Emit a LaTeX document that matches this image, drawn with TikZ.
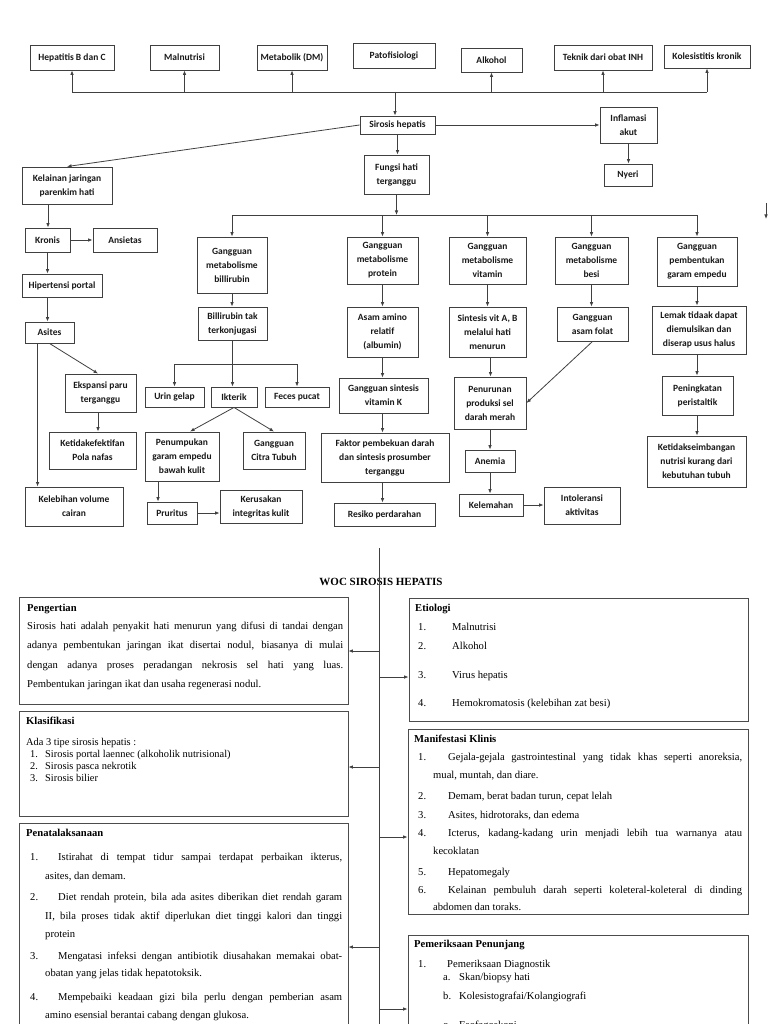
\documentclass[tikz,border=0pt]{standalone}
\usepackage{fontspec}
\setmainfont{Liberation Serif}
\newfontfamily\flowfont{Carlito}
\usetikzlibrary{arrows.meta}
\newcommand\bodyfnt{\fontsize{10.6}{12}\selectfont}
\newcommand\smallbody{\fontsize{10.4}{11}\selectfont}
\newcommand\flbox[6]{\node[fbox, minimum width=#4pt, minimum height=#5pt] (#1) at (#2,#3) {#6};}
\newcommand\tline[4]{\node[txt] (#1) at (#2,#3) {#4};}
\newcommand\jline[5]{\node[txt] (#1) at (#2,#3) {\makebox[#4pt][s]{#5}};}
\begin{document}
\begin{tikzpicture}[x=1pt,y=-1pt,
  fbox/.style={draw=black!75, line width=0.9pt, font=\flowfont\bfseries\fontsize{9.5}{14}\selectfont, align=center, inner sep=0pt, text=black!90},
  tbox/.style={draw=black!70, line width=0.9pt, inner sep=0pt},
  cn/.style={draw=black!75, line width=0.8pt},
  arr/.style={cn, -{Latex[length=4.5pt,width=3.6pt]}},
  txt/.style={anchor=base west, inner sep=0pt, font=\bodyfnt},
  hd/.style={txt, font=\bodyfnt\bfseries}]
\useasboundingbox (0,0) rectangle (768,1024);
\clip (0,0) rectangle (768,1024);
\fill[white] (0,0) rectangle (768,1024);

% ---------- top row ----------
\flbox{hep}{72}{57.5}{84}{25}{Hepatitis B dan C}
\flbox{mal}{184.5}{57.5}{69}{25}{Malnutrisi}
\flbox{met}{292}{57.5}{70}{25}{Metabolik (DM)}
\flbox{pato}{394}{55.5}{82}{25}{Patofisiologi}
\flbox{alk}{491.5}{60}{61}{24}{Alkohol}
\flbox{inh}{603}{57.5}{98}{25}{Teknik dari obat INH}
\flbox{kol}{707}{56.5}{86}{23}{Kolesistitis kronik}

\coordinate (busY) at (0,92);
\draw[cn] (hep.south |- busY) -- (kol.south |- busY);
\foreach \b in {hep,mal,met,alk,inh,kol}{\draw[arr] (\b.south |- busY) -- (\b.south);}

\flbox{sir}{397.5}{125}{75}{18}{Sirosis hepatis}
\coordinate (busC) at (395,92);
\draw[arr] (busC) -- (busC |- sir.north);

\flbox{infl}{628.5}{125}{57}{36}{Inflamasi\\akut}
\flbox{nyeri}{628}{175}{48}{22}{Nyeri}
\flbox{fungsi}{396.5}{174.5}{65}{39}{Fungsi hati\\terganggu}
\flbox{kel}{67}{185.5}{90}{37}{Kelainan jaringan\\parenkim hati}

\draw[arr] (sir.east) -- (sir.east -| infl.west);
\draw[arr] (infl.south) -- (infl.south |- nyeri.north);
\draw[arr] (sir.south) -- (sir.south |- fungsi.north);
\draw[arr] (sir.west) -- (kel.north);

% stray arrow at right edge
\coordinate (sa) at (766,203);
\coordinate (sb) at (766,219);
\draw[arr] (sa) -- (sb);

% ---------- left chain ----------
\flbox{kronis}{47.5}{240}{45}{24}{Kronis}
\flbox{ansietas}{125}{240}{64}{24}{Ansietas}
\flbox{hiper}{62}{285.5}{80}{23}{Hipertensi portal}
\flbox{asites}{49.5}{332.5}{49}{21}{Asites}
\flbox{ekspansi}{100.5}{393}{71}{38}{Ekspansi paru\\terganggu}
\flbox{ketef}{92.5}{450.5}{87}{37}{Ketidakefektifan\\Pola nafas}
\flbox{kelebihan}{74}{506.5}{98}{39}{Kelebihan volume\\cairan}

\draw[arr] ([xshift=-19pt]kel.south) -- ([xshift=-19pt]kel.south |- kronis.north);
\draw[arr] (kronis.east) -- (ansietas.west);
\draw[arr] (kronis.south) -- (kronis.south |- hiper.north);
\draw[arr] (kronis.south |- hiper.south) -- (kronis.south |- asites.north);
\draw[arr] ([xshift=13pt]asites.south west) -- ([xshift=13pt]asites.south west |- kelebihan.north);
\draw[arr] (asites.south) -- ([xshift=-2.5pt]ekspansi.north);
\draw[arr] ([xshift=-2.5pt]ekspansi.south) -- ([xshift=-2.5pt]ekspansi.south |- ketef.north);

% ---------- branch from Fungsi hati ----------
\flbox{gmb}{232}{265}{70}{56}{Gangguan\\metabolisme\\billirubin}
\flbox{gmp}{382.5}{260.5}{71}{47}{Gangguan\\metabolisme\\protein}
\flbox{gmv}{487.5}{260.5}{77}{47}{Gangguan\\metabolisme\\vitamin}
\flbox{gmbesi}{591.5}{260.5}{73}{47}{Gangguan\\metabolisme\\besi}
\flbox{gpg}{697}{261.5}{80}{49}{Gangguan\\pembentukan\\garam empedu}

\coordinate (brY) at (0,215);
\draw[arr] (fungsi.south) -- (fungsi.south |- brY);
\draw[cn] (gmb.north |- brY) -- (gpg.north |- brY);
\foreach \b in {gmb,gmp,gmv,gmbesi,gpg}{\draw[arr] (\b.north |- brY) -- (\b.north);}

% billirubin column
\flbox{btk}{232.5}{323.5}{69}{33}{Billirubin tak\\terkonjugasi}
\flbox{urin}{174.5}{397}{59}{20}{Urin gelap}
\flbox{ikt}{234}{397}{46}{20}{Ikterik}
\flbox{feces}{297}{397}{64}{20}{Feces pucat}
\flbox{penum}{182}{456.5}{74}{49}{Penumpukan\\garam empedu\\bawah kulit}
\flbox{citra}{274}{450.5}{62}{37}{Gangguan\\Citra Tubuh}
\flbox{prur}{172}{513}{50}{22}{Pruritus}
\flbox{kerus}{261}{506.5}{82}{33}{Kerusakan\\integritas kulit}

\draw[arr] (gmb.south) -- (gmb.south |- btk.north);
\coordinate (ikY) at (0,364);
\draw[arr] (btk.south) -- (btk.south |- ikt.north);
\draw[cn] (urin.north |- ikY) -- (feces.north |- ikY);
\draw[arr] (urin.north |- ikY) -- (urin.north);
\draw[arr] (feces.north |- ikY) -- (feces.north);
\draw[arr] (ikt.south) -- ([xshift=8pt]penum.north);
\draw[arr] (ikt.south) -- (citra.north);
\draw[arr] ([xshift=-24pt]penum.south) -- ([xshift=-24pt]penum.south |- prur.north);
\draw[arr] (prur.east) -- (prur.east -| kerus.west);

% protein column
\flbox{asam}{382.5}{332}{71}{50}{Asam amino\\relatif\\(albumin)}
\flbox{gsk}{383.5}{395.5}{89}{35}{Gangguan sintesis\\vitamin K}
\flbox{faktor}{385}{457.5}{128}{49}{Faktor pembekuan darah\\dan sintesis prosumber\\terganggu}
\flbox{resiko}{384.5}{514.5}{101}{23}{Resiko perdarahan}
\draw[arr] (gmp.south) -- (gmp.south |- asam.north);
\draw[arr] (asam.south) -- (asam.south |- gsk.north);
\draw[arr] (asam.south |- gsk.south) -- (asam.south |- faktor.north);
\draw[arr] (asam.south |- faktor.south) -- (asam.south |- resiko.north);

% vitamin column
\flbox{sva}{487.5}{332}{77}{50}{Sintesis vit A, B\\melalui hati\\menurun}
\flbox{pen}{490}{403}{72}{52}{Penurunan\\produksi sel\\darah merah}
\flbox{anemia}{490}{461}{50}{22}{Anemia}
\flbox{kelem}{491}{505}{64}{22}{Kelemahan}
\flbox{intol}{582}{505.5}{76}{37}{Intoleransi\\aktivitas}
\draw[arr] (gmv.south) -- (gmv.south |- sva.north);
\draw[arr] ([xshift=3pt]sva.south) -- ([xshift=3pt]sva.south |- pen.north);
\draw[arr] (pen.south) -- (pen.south |- anemia.north);
\draw[arr] (anemia.south) -- (anemia.south |- kelem.north);
\draw[arr] (kelem.east) -- (kelem.east -| intol.west);

% besi column
\flbox{gaf}{592.5}{324}{71}{34}{Gangguan\\asam folat}
\draw[arr] (gmbesi.south) -- (gmbesi.south |- gaf.north);
\draw[arr] (gaf.south) -- (pen.east);

% garam empedu column
\flbox{lemak}{699}{330}{94}{48}{Lemak tidaak dapat\\diemulsikan dan\\diserap usus halus}
\flbox{pening}{697.5}{395.5}{71}{39}{Peningkatan\\peristaltik}
\flbox{ketse}{696.5}{461.5}{99}{51}{Ketidakseimbangan\\nutrisi kurang dari\\kebutuhan tubuh}
\draw[arr] (gpg.south) -- (gpg.south |- lemak.north);
\draw[arr] (gpg.south |- lemak.south) -- (gpg.south |- pening.north);
\draw[arr] (gpg.south |- pening.south) -- (gpg.south |- ketse.north);

% ---------- WOC section ----------
\node[inner sep=0pt, font=\fontsize{11}{13}\selectfont\bfseries] (title) at (381,582) {WOC SIROSIS HEPATIS};

\node[tbox, minimum width=329pt, minimum height=107pt] (peng) at (183.5,650.5) {};
\node[tbox, minimum width=329pt, minimum height=105pt] (klas) at (183.5,763.5) {};
\node[tbox, minimum width=329pt, minimum height=237pt] (pena) at (183.5,941.5) {};
\node[tbox, minimum width=339pt, minimum height=123pt] (etio) at (578.5,659.5) {};
\node[tbox, minimum width=340pt, minimum height=185pt] (mani) at (578,821.5) {};
\node[tbox, minimum width=340pt, minimum height=125pt] (peme) at (578,997.5) {};

\coordinate (ctop) at (379,548);
\coordinate (cbot) at (379,1030);
\draw[cn] (ctop) -- (cbot);
\coordinate (jl1) at (379,651);
\coordinate (jl2) at (379,767);
\coordinate (jl3) at (379,947);
\coordinate (jr1) at (379,677);
\coordinate (jr2) at (379,837);
\coordinate (jr3) at (379,1009);
\draw[arr] (jl1) -- (jl1 -| peng.east);
\draw[arr] (jl2) -- (jl2 -| klas.east);
\draw[arr] (jl3) -- (jl3 -| pena.east);
\draw[arr] (jr1) -- (jr1 -| etio.west);
\draw[arr] (jr2) -- (jr2 -| mani.west);
\draw[arr] (jr3) -- (jr3 -| peme.west);

% Pengertian
\node[hd] (p0) at (27,611) {Pengertian};
\jline{p1}{27}{629}{316}{Sirosis hati adalah penyakit hati menurun yang difusi di tandai dengan}
\jline{p2}{27}{648}{316}{adanya pembentukan jaringan ikat disertai nodul, biasanya di mulai}
\jline{p3}{27}{668}{316}{dengan adanya proses peradangan nekrosis sel hati yang luas.}
\tline{p4}{27}{687}{Pembentukan jaringan ikat dan usaha regenerasi nodul.}

% Klasifikasi
\node[hd] (k0) at (26,724) {Klasifikasi};
\node[txt, font=\smallbody] (k1) at (26,745) {Ada 3 tipe sirosis hepatis :};
\node[txt, font=\smallbody] (k2n) at (30,757) {1.};
\node[txt, font=\smallbody] (k2) at (45,757) {Sirosis portal laennec (alkoholik nutrisional)};
\node[txt, font=\smallbody] (k3n) at (30,769) {2.};
\node[txt, font=\smallbody] (k3) at (45,769) {Sirosis pasca nekrotik};
\node[txt, font=\smallbody] (k4n) at (30,781) {3.};
\node[txt, font=\smallbody] (k4) at (45,781) {Sirosis bilier};

% Penatalaksanaan
\node[hd] (n0) at (26,836) {Penatalaksanaan};
\tline{n1n}{30}{860}{1.}
\jline{n1}{58}{860}{284}{Istirahat di tempat tidur sampai terdapat perbaikan ikterus,}
\tline{n1b}{45}{879}{asites, dan demam.}
\tline{n2n}{30}{900}{2.}
\jline{n2}{58}{900}{284}{Diet rendah protein, bila ada asites diberikan diet rendah garam}
\jline{n2b}{45}{919}{297}{II, bila proses tidak aktif diperlukan diet tinggi kalori dan tinggi}
\tline{n2c}{45}{937}{protein}
\tline{n3n}{30}{959}{3.}
\jline{n3}{58}{959}{284}{Mengatasi infeksi dengan antibiotik diusahakan memakai obat-}
\tline{n3b}{45}{976}{obatan yang jelas tidak hepatotoksik.}
\tline{n4n}{30}{1000}{4.}
\jline{n4}{58}{1000}{284}{Mempebaiki keadaan gizi bila perlu dengan pemberian asam}
\tline{n4b}{45}{1018}{amino esensial berantai cabang dengan glukosa.}

% Etiologi
\node[hd] (e0) at (415,611) {Etiologi};
\tline{e1n}{418}{630}{1.}
\tline{e1}{452}{630}{Malnutrisi}
\tline{e2n}{418}{649}{2.}
\tline{e2}{452}{649}{Alkohol}
\tline{e3n}{418}{678}{3.}
\tline{e3}{452}{678}{Virus hepatis}
\tline{e4n}{418}{706}{4.}
\tline{e4}{452}{706}{Hemokromatosis (kelebihan zat besi)}

% Manifestasi Klinis
\node[hd] (m0) at (414,742) {Manifestasi Klinis};
\tline{m1n}{418}{760}{1.}
\jline{m1}{448}{760}{294}{Gejala-gejala gastrointestinal yang tidak khas seperti anoreksia,}
\tline{m1b}{433}{778}{mual, muntah, dan diare.}
\tline{m2n}{418}{799}{2.}
\tline{m2}{448}{799}{Demam, berat badan turun, cepat lelah}
\tline{m3n}{418}{818}{3.}
\tline{m3}{448}{818}{Asites, hidrotoraks, dan edema}
\tline{m4n}{418}{836}{4.}
\jline{m4}{448}{836}{294}{Icterus, kadang-kadang urin menjadi lebih tua warnanya atau}
\tline{m4b}{433}{854}{kecoklatan}
\tline{m5n}{418}{875}{5.}
\tline{m5}{448}{875}{Hepatomegaly}
\tline{m6n}{418}{893}{6.}
\jline{m6}{448}{893}{294}{Kelainan pembuluh darah seperti koleteral-koleteral di dinding}
\tline{m6b}{433}{910}{abdomen dan toraks.}

% Pemeriksaan Penunjang
\node[hd] (r0) at (414,947) {Pemeriksaan Penunjang};
\tline{r1n}{418}{967}{1.}
\tline{r1}{447}{967}{Pemeriksaan Diagnostik}
\tline{ran}{443}{980}{a.}
\tline{ra}{459}{980}{Skan/biopsy hati}
\tline{rbn}{443}{999}{b.}
\tline{rb}{459}{999}{Kolesistografai/Kolangiografi}
\tline{rcn}{443}{1028}{c.}
\tline{rc}{459}{1028}{Esofagoskopi}
\end{tikzpicture}
\end{document}
